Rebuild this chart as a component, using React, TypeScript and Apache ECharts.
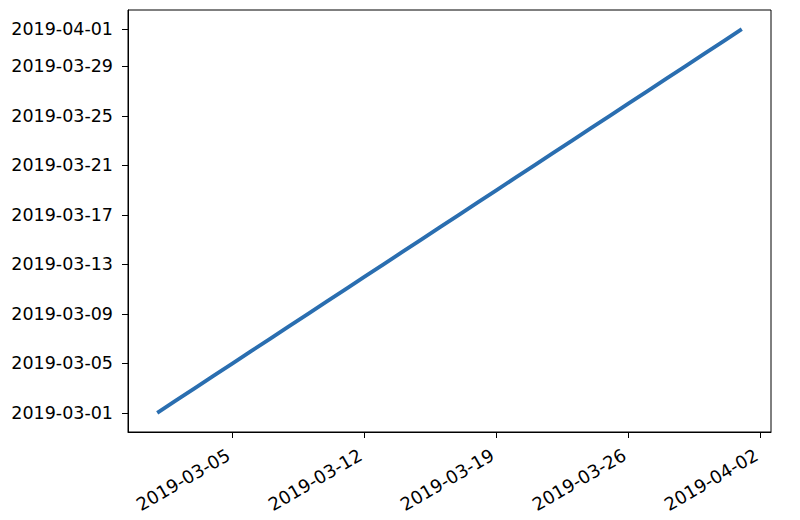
import React, { useEffect, useRef } from "react";
import * as echarts from "echarts";

// Data: a straight diagonal line, x date equals y date, daily from 2019-03-01 to 2019-04-01
const DATES: string[] = [
  "2019-03-01", "2019-03-02", "2019-03-03", "2019-03-04", "2019-03-05", "2019-03-06",
  "2019-03-07", "2019-03-08", "2019-03-09", "2019-03-10", "2019-03-11", "2019-03-12",
  "2019-03-13", "2019-03-14", "2019-03-15", "2019-03-16", "2019-03-17", "2019-03-18",
  "2019-03-19", "2019-03-20", "2019-03-21", "2019-03-22", "2019-03-23", "2019-03-24",
  "2019-03-25", "2019-03-26", "2019-03-27", "2019-03-28", "2019-03-29", "2019-03-30",
  "2019-03-31", "2019-04-01",
];

const X_TICKS: string[] = ["2019-03-05", "2019-03-12", "2019-03-19", "2019-03-26", "2019-04-02"];
const Y_TICKS: string[] = [
  "2019-03-01", "2019-03-05", "2019-03-09", "2019-03-13", "2019-03-17",
  "2019-03-21", "2019-03-25", "2019-03-29", "2019-04-01",
];

const toMs = (d: string) => new Date(d + "T00:00:00Z").getTime();
const fmt = (v: number) => new Date(v).toISOString().slice(0, 10);

export default function App() {
  const ref = useRef<HTMLDivElement>(null);

  useEffect(() => {
    if (!ref.current) return;
    const chart = echarts.init(ref.current, null, { renderer: "svg" });
    const first = toMs(DATES[0]);
    const last = toMs(DATES[DATES.length - 1]);
    const pad = (last - first) * 0.05;
    const font = "DejaVu Sans";
    const data = DATES.map((d) => [toMs(d), toMs(d)]);

    chart.setOption({
      animation: false,
      grid: {
        left: 128,
        top: 10,
        right: 29,
        bottom: 88,
        show: true,
        borderColor: "#000",
        borderWidth: 1,
        backgroundColor: "#fff",
      },
      xAxis: {
        type: "value",
        min: first - pad,
        max: last + pad,
        splitLine: { show: false },
        axisLine: { show: true, onZero: false, lineStyle: { color: "#000", width: 1 } },
        axisTick: {
          show: true,
          length: 6,
          lineStyle: { color: "#000" },
          customValues: X_TICKS.map(toMs),
        },
        axisLabel: {
          show: true,
          rotate: 30,
          margin: 19,
          padding: [0, 5, 0, 0],
          color: "#000",
          fontFamily: font,
          fontSize: 18,
          customValues: X_TICKS.map(toMs),
          formatter: (v: number) => fmt(v),
        },
      },
      yAxis: {
        type: "value",
        min: first - pad,
        max: last + pad,
        splitLine: { show: false },
        axisLine: { show: true, onZero: false, lineStyle: { color: "#000", width: 1 } },
        axisTick: {
          show: true,
          length: 6,
          lineStyle: { color: "#000" },
          customValues: Y_TICKS.map(toMs),
        },
        axisLabel: {
          show: true,
          margin: 15,
          color: "#000",
          fontFamily: font,
          fontSize: 17.5,
          customValues: Y_TICKS.map(toMs),
          formatter: (v: number) => fmt(v),
        },
      },
      series: [
        {
          type: "line",
          data,
          showSymbol: false,
          symbol: "none",
          lineStyle: { color: "#2a6eb0", width: 3.8 },
        },
      ],
    });

    return () => chart.dispose();
  }, []);

  return (
    <div
      ref={ref}
      style={{ position: "absolute", left: 0, top: 0, width: 800, height: 520, background: "#fff" }}
    />
  );
}
